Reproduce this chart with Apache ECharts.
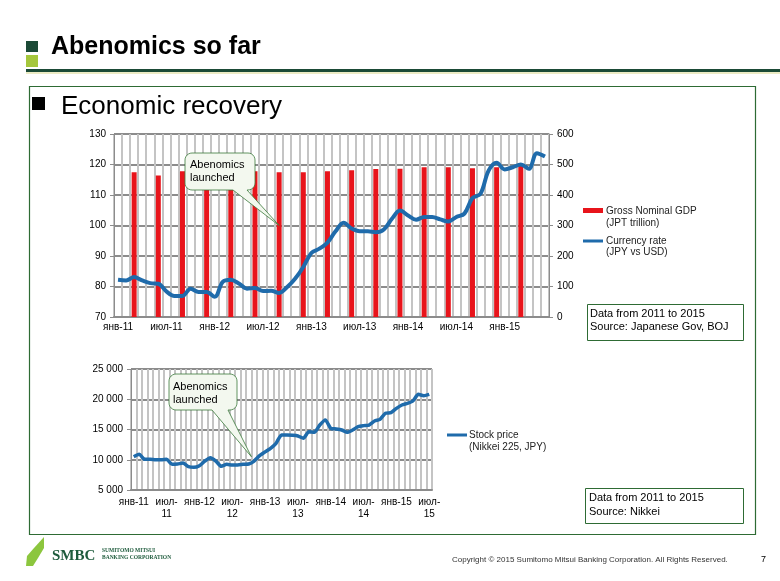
<!DOCTYPE html>
<html>
<head>
<meta charset="utf-8">
<title>Abenomics so far</title>
<script src="https://cdn.jsdelivr.net/npm/echarts@6/dist/echarts.min.js"></script>
<style>
  html, body { margin: 0; padding: 0; background: #fff; }
  #main { width: 780px; height: 581px; }
</style>
</head>
<body>
<div id="main"></div>
<script>
// month labels янв-11 .. июл-15
var monthNames = ['янв', 'фев', 'мар', 'апр', 'май', 'июн', 'июл', 'авг', 'сен', 'окт', 'ноя', 'дек'];
var months = [];
for (var yr = 11; yr <= 15; yr++) {
  for (var mo = 0; mo < 12; mo++) months.push(monthNames[mo] + '-' + yr);
}
var stockMonths = months.slice(0, 55);   // to июл-15
var fxMonths = months.slice(0, 54);      // to июн-15

// currency rate, JPY vs USD (left axis)
var usdJpy = [82.2, 82.0, 83.1, 82.0, 81.1, 80.9, 78.4, 76.9, 76.9, 79.3, 78.2, 78.2,
  76.6, 81.5, 82.2, 81.0, 79.3, 79.5, 78.5, 78.6, 77.9, 79.8, 82.6, 86.4,
  91.0, 92.4, 94.4, 98.1, 100.9, 99.0, 98.1, 98.1, 97.8, 98.7, 102.2, 104.9,
  103.3, 101.9, 102.8, 102.8, 102.0, 101.3, 102.8, 103.9, 109.0, 110.4, 118.0, 120.6,
  118.4, 119.1, 120.0, 118.6, 123.7, 122.6];

// gross nominal GDP, JPY trillion (right axis), quarter ends
var gdpMonths = ['мар-11', 'июн-11', 'сен-11', 'дек-11', 'мар-12', 'июн-12', 'сен-12', 'дек-12',
  'мар-13', 'июн-13', 'сен-13', 'дек-13', 'мар-14', 'июн-14', 'сен-14', 'дек-14', 'мар-15'];
var gdpValues = [475, 464, 478, 472, 474, 478, 475, 475, 478, 481, 485, 486, 491, 491, 488, 491, 495];

// Nikkei 225, JPY
var nikkei = [10500, 10900, 10070, 10070, 10000, 10000, 10070, 9240, 9300, 9450, 8850, 8740,
  9020, 9790, 10340, 9790, 8910, 9240, 9130, 9130, 9240, 9300, 9790, 10670,
  11300, 11890, 12720, 14090, 14090, 14040, 13930, 13540, 14640, 14530, 15740, 16570,
  15200, 15090, 14920, 14530, 14920, 15470, 15640, 15740, 16400, 16680, 17670, 17780,
  18500, 19050, 19330, 19710, 20810, 20590, 20810];

var FONT = '"Liberation Sans", Arial, sans-serif';
var RED = '#e8141b';
var BLUE = '#1f6bab';
var GREEN = '#2e6b34';
var DARK = '#1b4a36';

var gdpData = fxMonths.map(function (m) {
  var i = gdpMonths.indexOf(m);
  return i < 0 ? '-' : gdpValues[i];
});

function thousands(v) {
  return String(v).replace(/\B(?=(\d{3})+(?!\d))/g, ' ');
}

var chart = echarts.init(document.getElementById('main'));

var xCommon = {
  type: 'category',
  boundaryGap: true,
  axisLine: { lineStyle: { color: '#8c8c8c', width: 2 } },
  axisTick: { show: false, interval: 0 },
  splitLine: { show: true, interval: 0, lineStyle: { color: '#c4c4c4', width: 2 } }
};

chart.setOption({
  animation: false,
  textStyle: { fontFamily: FONT },
  grid: [
    { left: 114, top: 134, width: 435, height: 183 },
    { left: 131, top: 369, width: 301, height: 121 }
  ],
  xAxis: [
    Object.assign({}, xCommon, {
      gridIndex: 0,
      data: fxMonths,
      axisLabel: { interval: 5, margin: 5, fontSize: 10, color: '#000' }
    }),
    Object.assign({}, xCommon, {
      gridIndex: 1,
      data: stockMonths,
      axisLabel: {
        interval: 5, margin: 6, fontSize: 10, color: '#000', lineHeight: 12,
        formatter: function (v) { return v.indexOf('июл') === 0 ? v.replace('-', '-\n') : v; }
      }
    })
  ],
  yAxis: [
    {
      gridIndex: 0, type: 'value', position: 'left', min: 70, max: 130, interval: 10,
      axisLine: { show: true, lineStyle: { color: '#8c8c8c', width: 1 } },
      axisTick: { show: true, length: 4, lineStyle: { color: '#8c8c8c' } },
      axisLabel: { margin: 8, fontSize: 10, color: '#000' },
      splitLine: { lineStyle: { color: '#8c8c8c', width: 2 } }
    },
    {
      gridIndex: 0, type: 'value', position: 'right', min: 0, max: 600, interval: 100,
      axisLine: { show: true, lineStyle: { color: '#8c8c8c', width: 1 } },
      axisTick: { show: true, length: 4, lineStyle: { color: '#8c8c8c' } },
      axisLabel: { margin: 8, fontSize: 10, color: '#000' },
      splitLine: { show: false }
    },
    {
      gridIndex: 1, type: 'value', position: 'left', min: 5000, max: 25000, interval: 5000,
      axisLine: { show: true, lineStyle: { color: '#8c8c8c', width: 1 } },
      axisTick: { show: true, length: 4, lineStyle: { color: '#8c8c8c' } },
      axisLabel: { margin: 8, fontSize: 10, color: '#000', formatter: thousands },
      splitLine: { lineStyle: { color: '#8c8c8c', width: 2 } }
    }
  ],
  series: [
    {
      name: 'Gross Nominal GDP', type: 'bar', xAxisIndex: 0, yAxisIndex: 1,
      data: gdpData, barWidth: 5, itemStyle: { color: RED }
    },
    {
      name: 'Currency rate', type: 'line', xAxisIndex: 0, yAxisIndex: 0,
      data: usdJpy, smooth: 0.35, symbol: 'none', z: 3,
      lineStyle: { color: BLUE, width: 4 }
    },
    {
      name: 'Stock price', type: 'line', xAxisIndex: 1, yAxisIndex: 2,
      data: nikkei, smooth: 0.2, symbol: 'none',
      lineStyle: { color: BLUE, width: 3.5 }
    }
  ]
});

// callout outline: rounded box with a pointer tail leaving its bottom edge
function calloutPoints(x, y, w, h, r, b1, b2, tip) {
  var pts = [];
  function corner(cx, cy, a0) {
    for (var k = 0; k <= 6; k++) {
      var a = (a0 + k * 15) * Math.PI / 180;
      pts.push([cx + r * Math.cos(a), cy + r * Math.sin(a)]);
    }
  }
  corner(x + r, y + r, 180);
  corner(x + w - r, y + r, 270);
  corner(x + w - r, y + h - r, 0);
  pts.push([b2, y + h], tip, [b1, y + h]);
  corner(x + r, y + h - r, 90);
  return pts;
}

var tipTop = chart.convertToPixel({ xAxisIndex: 0, yAxisIndex: 0 }, [20, 100]);
var tipA = chart.convertToPixel({ xAxisIndex: 1, yAxisIndex: 2 }, [21, 10500]);
var tipB = chart.convertToPixel({ xAxisIndex: 1, yAxisIndex: 2 }, [22, 10500]);
var tipBottom = [(tipA[0] + tipB[0]) / 2, tipA[1]];

function txt(x, y, text, font, extra) {
  var style = Object.assign({ text: text, font: font, fill: '#000', verticalAlign: 'top' }, extra || {});
  return { type: 'text', x: x, y: y, style: style, z: 100 };
}
function box(x, y, w, h, fill, stroke, lw) {
  return { type: 'rect', shape: { x: x, y: y, width: w, height: h },
    style: { fill: fill, stroke: stroke || null, lineWidth: lw || 0 }, z: 90 };
}

var calloutStyle = { fill: '#f3f8ef', stroke: '#3b7a3b', lineWidth: 0.8 };

chart.setOption({
  graphic: [
    // heading
    box(26, 41, 12, 11, DARK),
    box(26, 55, 12, 12, '#a5c73c'),
    box(26, 69, 754, 3, DARK),
    box(26, 72, 754, 2, '#ecebc4'),
    txt(51, 47, 'Abenomics so far', 'bold 25px ' + FONT, { verticalAlign: 'middle' }),
    // frame
    box(29.5, 86.5, 726, 448, 'none', GREEN, 1.2),
    box(32, 97, 13, 13, '#000'),
    txt(61, 107, 'Economic recovery', '26px ' + FONT, { verticalAlign: 'middle' }),
    // top legend
    box(583, 208, 20, 5, RED),
    txt(606, 205, 'Gross Nominal GDP\n(JPT trillion)', '10px ' + FONT, { lineHeight: 12, fill: '#222' }),
    { type: 'line', shape: { x1: 583, y1: 241, x2: 603, y2: 241 }, style: { stroke: BLUE, lineWidth: 3 }, z: 90 },
    txt(606, 235, 'Currency rate\n(JPY vs USD)', '10px ' + FONT, { lineHeight: 11.5, fill: '#222' }),
    // top source
    box(587.5, 304.5, 156, 36, '#fff', GREEN, 1),
    txt(590, 307.5, 'Data from 2011 to 2015\nSource: Japanese Gov, BOJ', '11px ' + FONT, { lineHeight: 13 }),
    // bottom legend
    { type: 'line', shape: { x1: 447, y1: 435, x2: 467, y2: 435 }, style: { stroke: BLUE, lineWidth: 3 }, z: 90 },
    txt(469, 429, 'Stock price\n(Nikkei 225, JPY)', '10px ' + FONT, { lineHeight: 12, fill: '#222' }),
    // bottom source
    box(585.5, 488.5, 158, 35, '#fff', GREEN, 1),
    txt(589, 490.5, 'Data from 2011 to 2015\nSource: Nikkei', '11px ' + FONT, { lineHeight: 14 }),
    // callouts
    { type: 'polygon', shape: { points: calloutPoints(185, 153, 70, 37, 7, 233, 247, tipTop) }, style: calloutStyle, z: 95 },
    txt(190, 158.5, 'Abenomics\nlaunched', '11px ' + FONT, { lineHeight: 13 }),
    { type: 'polygon', shape: { points: calloutPoints(169, 374, 68, 36, 7, 212, 228, tipBottom) }, style: calloutStyle, z: 95 },
    txt(173, 380.5, 'Abenomics\nlaunched', '11px ' + FONT, { lineHeight: 12.7 }),
    // footer
    { type: 'polygon', shape: { points: [[44, 537], [44, 548], [38, 558], [33, 566], [26, 566], [27, 556], [34, 548]] },
      style: { fill: '#8cc63e' }, z: 90 },
    txt(52, 556, 'SMBC', 'bold 15px "Liberation Serif", serif', { fill: '#1e5b3c', verticalAlign: 'middle' }),
    txt(102, 551, 'SUMITOMO MITSUI', 'bold 5.5px "Liberation Serif", serif', { fill: '#1e5b3c', verticalAlign: 'middle' }),
    txt(102, 558, 'BANKING CORPORATION', 'bold 5.5px "Liberation Serif", serif', { fill: '#1e5b3c', verticalAlign: 'middle' }),
    txt(452, 560, 'Copyright © 2015 Sumitomo Mitsui Banking Corporation. All Rights Reserved.', '8px ' + FONT,
      { fill: '#333', verticalAlign: 'middle' }),
    txt(761, 560, '7', '9px ' + FONT, { verticalAlign: 'middle' })
  ]
});
</script>
</body>
</html>
